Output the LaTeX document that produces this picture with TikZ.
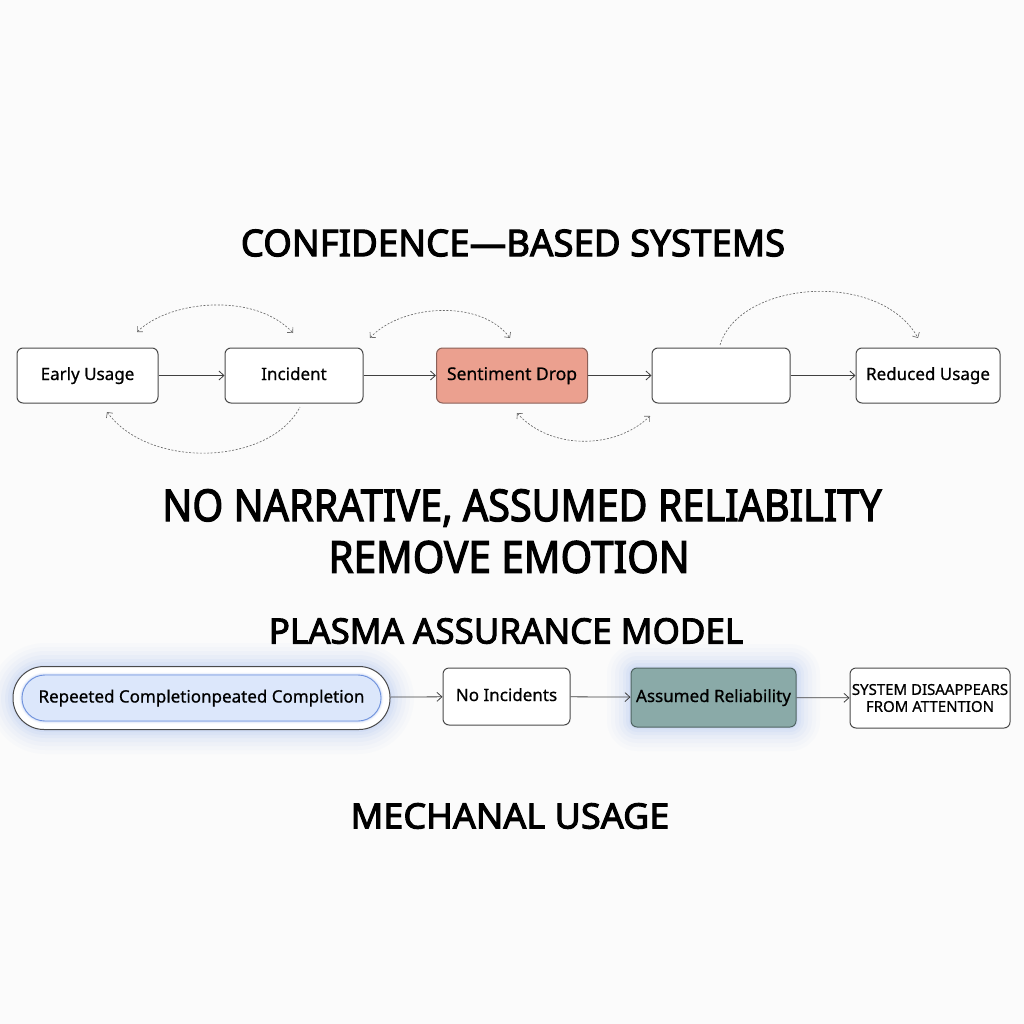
\documentclass[tikz,border=0pt]{standalone}
\usepackage{fontspec}
\setmainfont{Noto Sans}[AutoFakeBold=2.8]
\newfontfamily\boxfont{Noto Sans}[FakeBold=0.7]
\usetikzlibrary{arrows.meta}
\definecolor{bg}{HTML}{FBFBFB}
\definecolor{boxline}{HTML}{4A4A4A}
\definecolor{salmon}{HTML}{EBA08F}
\definecolor{salmonline}{HTML}{8A6058}
\definecolor{teal}{HTML}{8AAAA8}
\definecolor{tealline}{HTML}{4F6462}
\definecolor{glow}{HTML}{7A9DEB}
\definecolor{capfill}{HTML}{DCE7FB}
\definecolor{capline}{HTML}{6F92DC}
\definecolor{dashc}{HTML}{6A6A6A}
\tikzset{looptip/.tip={Straight Barb[length=4pt,width=8pt]}}
\begin{document}
\begin{tikzpicture}[x=1pt,y=-1pt,
  flowbox/.style={draw=boxline, line width=1pt, rounded corners=6pt, fill=white, font=\boxfont\fontsize{17}{19}\selectfont, inner sep=0pt, minimum height=55pt, text height=12.5pt, text depth=3.5pt},
  title/.style={font=\fontsize{37}{40}\selectfont\bfseries, inner sep=0pt},
  flowarrow/.style={draw=black!75, line width=0.8pt, -{Straight Barb[length=5pt,width=9pt]}},
  loop/.style={draw=dashc, line width=0.65pt, dash pattern=on 2pt off 1.6pt}
]
\useasboundingbox[fill=bg] (0,0) rectangle (1024,1024);

% titles
\node[title] (t1) at (513,243) {\scalebox{0.99}[1]{CONFIDENCE—BASED SYSTEMS}};
\node[title, font=\fontsize{44}{48}\selectfont\bfseries] (t2) at (522,508) {\scalebox{0.9}[1]{NO NARRATIVE, ASSUMED RELIABILITY}};
\node[title, font=\fontsize{44}{48}\selectfont\bfseries] (t3) at (509,557) {\scalebox{0.92}[1]{REMOVE EMOTION}};
\node[title, font=\fontsize{35}{38}\selectfont\bfseries] (t4) at (506,631) {PLASMA ASSURANCE MODEL};
\node[title, font=\fontsize{35}{38}\selectfont\bfseries] (t5) at (510,816) {\scalebox{1.03}[1]{MECHANAL USAGE}};

% top row
\node[flowbox, minimum width=141pt] (early) at (87.5,375.5) {Early Usage};
\node[flowbox, minimum width=138pt] (incident) at (294,375.5) {Incident};
\node[flowbox, minimum width=151pt, fill=salmon, draw=salmonline, font=\boxfont\fontsize{17.5}{19}\selectfont] (sentiment) at (512,375.5) {Sentiment Drop};
\node[flowbox, minimum width=138pt] (empty) at (721,375.5) {};
\node[flowbox, minimum width=144pt] (reduced) at (928,375.5) {Reduced Usage};

\draw[flowarrow] (early) -- (incident);
\draw[flowarrow] (incident) -- (sentiment);
\draw[flowarrow] (sentiment) -- (empty);
\draw[flowarrow] (empty) -- (reduced);

% dashed loops
\coordinate (l1a) at (137,332);
\coordinate (l1b) at (293,333);
\draw[loop, {looptip}-{looptip}] (l1a) .. controls (170,300) and (255,292) .. (l1b);
\coordinate (l2a) at (370,338);
\coordinate (l2b) at (510,338);
\draw[loop, {looptip}-{looptip}] (l2a) .. controls (400,305) and (480,298) .. (l2b);
\coordinate (l3a) at (107,412);
\coordinate (l3b) at (300,407);
\draw[loop, {looptip}-] (l3a) .. controls (150,470) and (270,465) .. (l3b);
\coordinate (l4a) at (517,413);
\coordinate (l4b) at (650,416);
\draw[loop, {looptip}-{looptip}] (l4a) .. controls (550,450) and (615,450) .. (l4b);
\coordinate (l5a) at (720,345);
\coordinate (l5b) at (918,338);
\draw[loop, -{looptip}] (l5a) .. controls (740,280) and (880,270) .. (l5b);

% bottom row glows
\foreach \d/\o in {24/0.025,20/0.03,16/0.035,12/0.045,8/0.055,5/0.065,2/0.08} {
  \fill[glow, opacity=\o, rounded corners=32pt+\d pt] (13-\d,667-\d) rectangle (390+\d,730+\d);
  \fill[glow, opacity=\o, rounded corners=6pt+\d pt] (631-\d,668-\d) rectangle (796+\d,727+\d);
}

% capsule
\node[draw=boxline, line width=1pt, rounded corners=31pt, fill=white, minimum width=377pt, minimum height=63pt, inner sep=0pt] (capouter) at (201.5,698) {};
\foreach \d/\o in {5/0.08,3/0.12,1.5/0.18} {
  \draw[glow, opacity=\o, line width=\d pt, rounded corners=23pt] (22,675) rectangle (381,721);
}
\node[draw=capline, line width=0.9pt, rounded corners=23pt, fill=capfill, minimum width=359pt, minimum height=46pt, inner sep=0pt, font=\boxfont\fontsize{17}{19}\selectfont, text height=12.5pt, text depth=3.5pt] (capinner) at (201.5,698) {Repeeted Completionpeated Completion};

\node[flowbox, minimum width=127pt, minimum height=57pt] (noinc) at (506.5,696.5) {No Incidents};
\node[flowbox, minimum width=165pt, minimum height=59pt, fill=teal, draw=tealline] (assumed) at (713.5,697.5) {Assumed Reliability};
\node[flowbox, minimum width=160pt, minimum height=60pt, font=\boxfont\fontsize{15}{17}\selectfont, align=center, text height=, text depth=] (system) at (930,698) {SYSTEM DISAAPPEARS\\FROM ATTENTION};

\draw[flowarrow] (capouter) -- (noinc);
\draw[flowarrow] (noinc) -- (assumed);
\draw[flowarrow] (assumed) -- (system);
\end{tikzpicture}
\end{document}
